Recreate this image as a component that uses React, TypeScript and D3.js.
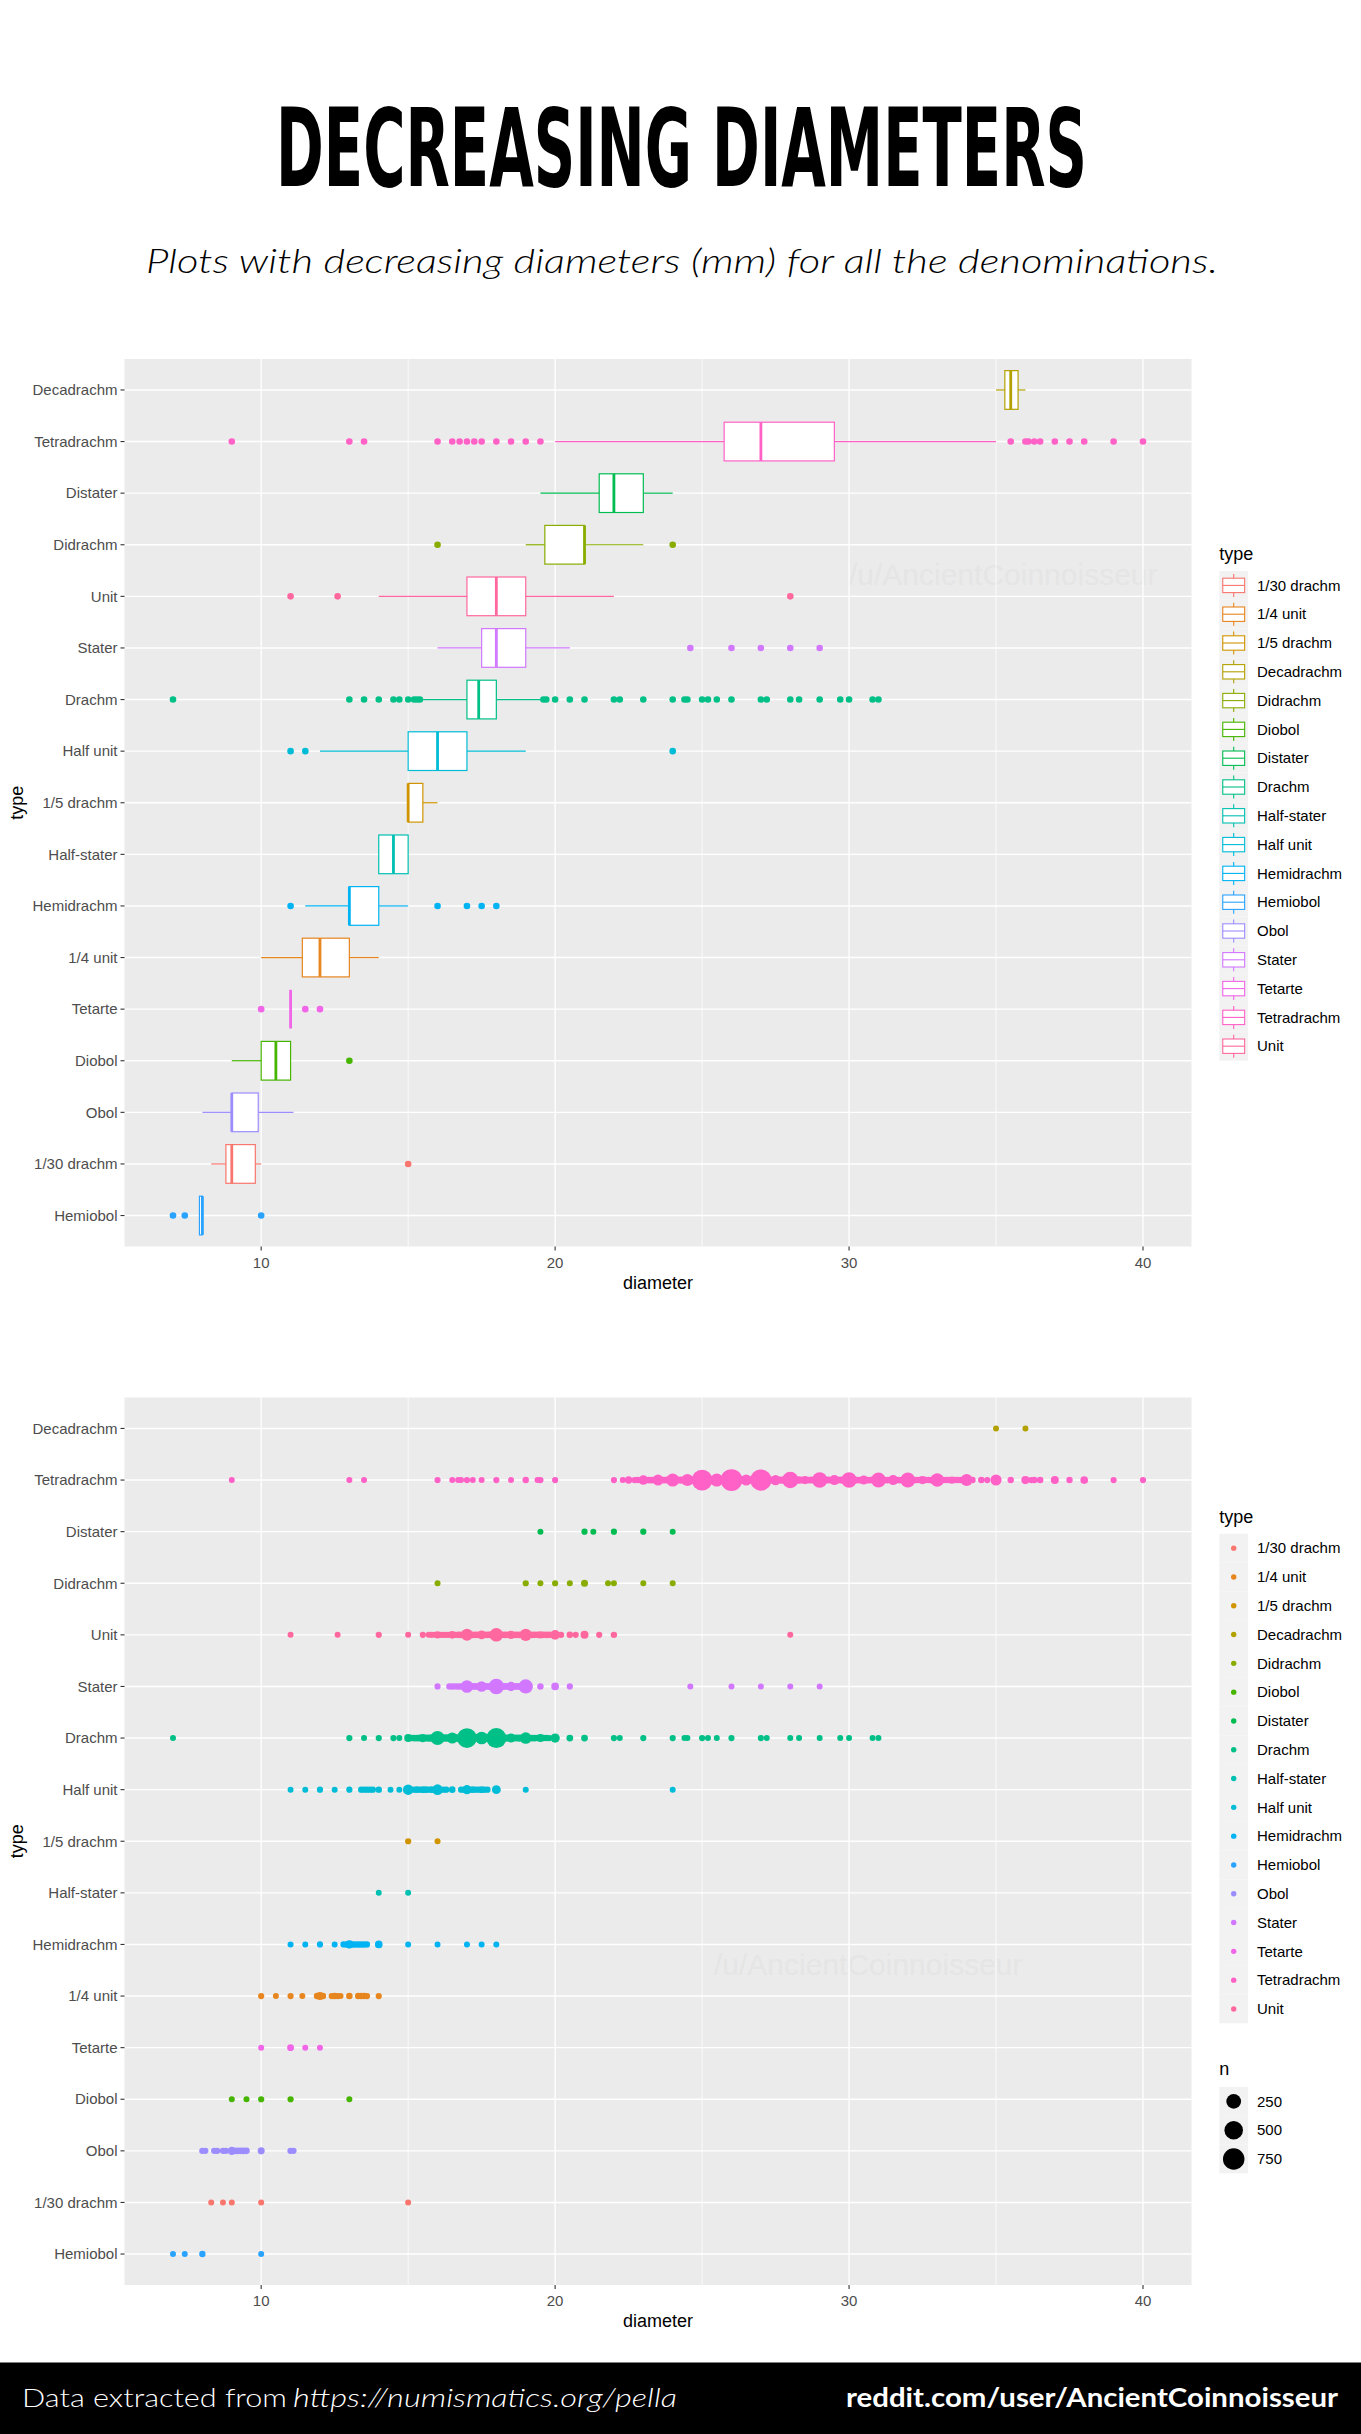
import React from 'react';
import * as d3 from 'd3';

// denominations, top to bottom as they appear on the y axis
const types = [
  'Decadrachm', 'Tetradrachm', 'Distater', 'Didrachm', 'Unit', 'Stater', 'Drachm',
  'Half unit', '1/5 drachm', 'Half-stater', 'Hemidrachm', '1/4 unit', 'Tetarte',
  'Diobol', 'Obol', '1/30 drachm', 'Hemiobol',
];

// legend order (factor levels)
const levels = [
  '1/30 drachm', '1/4 unit', '1/5 drachm', 'Decadrachm', 'Didrachm', 'Diobol', 'Distater',
  'Drachm', 'Half-stater', 'Half unit', 'Hemidrachm', 'Hemiobol', 'Obol', 'Stater',
  'Tetarte', 'Tetradrachm', 'Unit',
];

// [lower whisker, q1, median, q3, upper whisker], same order as types
const boxStats: number[][] = [
  [35, 35.3, 35.5, 35.75, 36],
  [20, 25.75, 27, 29.5, 35],
  [19.5, 21.5, 22, 23, 24],
  [19, 19.65, 21, 21, 23],
  [14, 17, 18, 19, 22],
  [16, 17.5, 18, 19, 20.5],
  [15.5, 17, 17.4, 18, 19.5],
  [12, 15, 16, 17, 19],
  [15, 15, 15, 15.5, 16],
  [14, 14, 14.5, 15, 15],
  [11.5, 13, 13, 14, 15],
  [10, 11.4, 12, 13, 14],
  [11, 11, 11, 11, 11],
  [9, 10, 10.5, 11, 11],
  [8, 9, 9, 9.9, 11.1],
  [8.3, 8.8, 9, 9.8, 10],
  [7.9, 7.9, 8, 8, 8],
];

const boxOutliers: number[][] = [
  [],
  [9, 13, 13.5, 16, 16.5, 16.75, 17, 17.25, 17.5, 18, 18.5, 19, 19.5, 35.5, 36, 36.1, 36.3, 36.5, 37, 37.5, 38, 39, 40],
  [],
  [16, 24],
  [11, 12.6, 28],
  [24.6, 26, 27, 28, 29],
  [7, 13, 13.5, 14, 14.5, 14.7, 15, 15.2, 15.3, 15.4, 19.6, 19.7, 20, 20.5, 21, 22, 22.2, 23, 24, 24.4, 24.5,
    25, 25.2, 25.5, 26, 27, 27.2, 28, 28.3, 29, 29.7, 30, 30.8, 31],
  [11, 11.5, 24],
  [],
  [],
  [11, 16, 17, 17.5, 18],
  [],
  [10, 11.5, 12],
  [13],
  [],
  [15],
  [7, 7.4, 10],
];

// [diameter, number of coins]
const decadrachmCounts = [[35, 1], [36, 1]];
const tetradrachmCounts = [
  [9, 1], [13, 1], [13.5, 1], [16, 2], [16.5, 1], [16.7, 1], [16.8, 1], [17, 2], [17.2, 1], [17.5, 1],
  [18, 2], [18.5, 1], [19, 3], [19.4, 1], [19.5, 2], [20, 2],
  [22, 2], [22.3, 1], [22.5, 12], [22.7, 2], [22.8, 3], [22.9, 2], [23, 50], [23.1, 4], [23.2, 6],
  [23.3, 5], [23.4, 4], [23.5, 90], [23.6, 6], [23.7, 5], [23.8, 8], [23.9, 5],
  [24, 170], [24.1, 6], [24.2, 8], [24.3, 10], [24.4, 6], [24.5, 130], [24.6, 8], [24.7, 10], [24.8, 14], [24.9, 8],
  [25, 690], [25.1, 12], [25.2, 14], [25.3, 16], [25.4, 10], [25.5, 170], [25.6, 12], [25.7, 14], [25.8, 16], [25.9, 12],
  [26, 780], [26.1, 10], [26.2, 16], [26.3, 12], [26.4, 10], [26.5, 95], [26.6, 10], [26.7, 12], [26.8, 14], [26.9, 8],
  [27, 730], [27.1, 10], [27.2, 14], [27.3, 10], [27.4, 8], [27.5, 70], [27.6, 8], [27.7, 10], [27.8, 12], [27.9, 6],
  [28, 350], [28.1, 8], [28.2, 10], [28.3, 12], [28.4, 6], [28.5, 22], [28.6, 6], [28.7, 8], [28.8, 6], [28.9, 6],
  [29, 290], [29.1, 6], [29.2, 8], [29.3, 8], [29.4, 5], [29.5, 64], [29.6, 6], [29.7, 8], [29.8, 10], [29.9, 5],
  [30, 290], [30.1, 5], [30.2, 8], [30.3, 6], [30.4, 5], [30.5, 40], [30.6, 5], [30.7, 6], [30.8, 8], [30.9, 4],
  [31, 260], [31.1, 4], [31.2, 6], [31.3, 5], [31.4, 4], [31.5, 64], [31.6, 4], [31.7, 5], [31.8, 6], [31.9, 4],
  [32, 260], [32.1, 4], [32.2, 5], [32.3, 4], [32.4, 4], [32.5, 22], [32.6, 3], [32.7, 4], [32.8, 5], [32.9, 3],
  [33, 190], [33.1, 3], [33.2, 4], [33.3, 3], [33.4, 3], [33.5, 10], [33.6, 3], [33.7, 3], [33.8, 4],
  [34, 128], [34.2, 3], [34.5, 4], [34.7, 2], [35, 95], [35.5, 3], [36, 22], [36.2, 2], [36.3, 3], [36.5, 4],
  [37, 20], [37.5, 3], [38, 15], [39, 2], [40, 2],
];
const distaterCounts = [[19.5, 1], [21, 2], [21.3, 1], [22, 2], [23, 2], [24, 1]];
const didrachmCounts = [
  [16, 1], [19, 2], [19.5, 1], [20, 2], [20.5, 1], [21, 8], [21.8, 1], [22, 1], [23, 1], [24, 1],
];
const unitCounts = [
  [11, 1], [12.6, 1], [14, 2], [15, 1], [15.5, 2], [15.7, 1], [15.8, 2], [15.9, 1], [16, 12], [16.1, 2],
  [16.2, 3], [16.3, 2], [16.4, 2], [16.5, 15], [16.6, 3], [16.7, 4], [16.8, 5], [16.9, 3], [17, 125],
  [17.1, 4], [17.2, 6], [17.3, 5], [17.4, 4], [17.5, 35], [17.6, 6], [17.7, 5], [17.8, 8], [17.9, 4],
  [18, 190], [18.1, 5], [18.2, 6], [18.3, 6], [18.4, 4], [18.5, 25], [18.6, 5], [18.7, 6], [18.8, 7],
  [18.9, 4], [19, 130], [19.1, 5], [19.2, 6], [19.3, 4], [19.4, 4], [19.5, 10], [19.6, 4], [19.7, 5],
  [19.8, 4], [19.9, 3], [20, 50], [20.2, 3], [20.5, 4], [20.7, 2], [21, 20], [21.5, 2], [22, 3], [28, 1],
];
const staterCounts = [
  [16, 2], [16.4, 2], [16.5, 3], [16.6, 2], [16.7, 3], [16.8, 4], [16.9, 3], [17, 150], [17.1, 4],
  [17.2, 5], [17.3, 6], [17.4, 5], [17.5, 75], [17.6, 5], [17.7, 6], [17.8, 8], [17.9, 5], [18, 300],
  [18.1, 6], [18.2, 8], [18.3, 6], [18.4, 5], [18.5, 45], [18.6, 5], [18.7, 6], [18.8, 8], [18.9, 5],
  [19, 230], [19.5, 3], [20, 15], [20.5, 2], [24.6, 1], [26, 1], [27, 1], [28, 1], [29, 1],
];
const drachmCounts = [
  [7, 1], [13, 2], [13.5, 1], [14, 2], [14.5, 2], [14.7, 1], [15, 18], [15.1, 4], [15.2, 5], [15.3, 6],
  [15.4, 8], [15.5, 25], [15.6, 8], [15.7, 10], [15.8, 12], [15.9, 8], [16, 215], [16.1, 10], [16.2, 14],
  [16.3, 12], [16.4, 10], [16.5, 95], [16.6, 12], [16.7, 15], [16.8, 18], [16.9, 12], [17, 600],
  [17.1, 15], [17.2, 18], [17.3, 16], [17.4, 12], [17.5, 150], [17.6, 14], [17.7, 16], [17.8, 18],
  [17.9, 12], [18, 620], [18.1, 12], [18.2, 14], [18.3, 10], [18.4, 8], [18.5, 40], [18.6, 8], [18.7, 8],
  [18.8, 10], [18.9, 6], [19, 110], [19.1, 6], [19.2, 5], [19.3, 5], [19.4, 4], [19.5, 20], [19.6, 3],
  [19.7, 3], [19.8, 2], [20, 45], [20.5, 6], [21, 6], [22, 2], [22.2, 1], [23, 2], [24, 2], [24.4, 1],
  [24.5, 1], [25, 2], [25.2, 1], [25.5, 1], [26, 2], [27, 2], [27.2, 1], [28, 1], [28.3, 1], [29, 1],
  [29.7, 1], [30, 1], [30.8, 1], [31, 1],
];
const halfUnitCounts = [
  [11, 1], [11.5, 1], [12, 2], [12.5, 1], [13, 2], [13.4, 2], [13.5, 3], [13.6, 2], [13.7, 3], [13.8, 2],
  [14, 3], [14.4, 1], [14.7, 1], [15, 75], [15.2, 3], [15.3, 4], [15.4, 3], [15.5, 6], [15.6, 4], [15.7, 3],
  [15.8, 4], [15.9, 3], [16, 80], [16.2, 3], [16.3, 2], [16.5, 4], [16.8, 2], [16.9, 3], [17, 40],
  [17.1, 3], [17.2, 4], [17.3, 3], [17.4, 2], [17.5, 6], [17.6, 2], [17.7, 2], [18, 35], [19, 1], [24, 1],
];
const fifthDrachmCounts = [[15, 2], [16, 1]];
const halfStaterCounts = [[14, 1], [15, 1]];
const hemidrachmCounts = [
  [11, 1], [11.5, 1], [12, 2], [12.5, 1], [12.8, 2], [12.9, 2], [13, 22], [13.1, 3], [13.2, 4], [13.3, 3],
  [13.4, 3], [13.5, 4], [13.6, 2], [14, 15], [15, 1], [16, 1], [17, 1], [17.5, 1], [18, 1],
];
const quarterUnitCounts = [
  [10, 2], [10.5, 1], [11, 2], [11.4, 1], [11.9, 3], [12, 18], [12.1, 3], [12.4, 2], [12.5, 3], [12.6, 2],
  [12.7, 1], [13, 4], [13.3, 3], [13.4, 3], [13.5, 4], [13.6, 2], [14, 2],
];
const tetarteCounts = [[10, 1], [11, 6], [11.5, 1], [12, 1]];
const diobolCounts = [[9, 1], [9.5, 1], [10, 2], [11, 2], [13, 1]];
const obolCounts = [
  [8, 3], [8.1, 2], [8.4, 2], [8.5, 3], [8.7, 2], [8.8, 3], [9, 25], [9.1, 6], [9.2, 5], [9.3, 4],
  [9.4, 5], [9.5, 4], [10, 8], [11, 3], [11.1, 2],
];
const thirtiethDrachmCounts = [[8.3, 1], [8.7, 1], [9, 1], [10, 1], [15, 1]];
const hemiobolCounts = [[7, 1], [7.4, 1], [8, 3], [10, 1]];

// same order as types
const countsByType = [
  decadrachmCounts, tetradrachmCounts, distaterCounts, didrachmCounts, unitCounts, staterCounts,
  drachmCounts, halfUnitCounts, fifthDrachmCounts, halfStaterCounts, hemidrachmCounts,
  quarterUnitCounts, tetarteCounts, diobolCounts, obolCounts, thirtiethDrachmCounts, hemiobolCounts,
];

const xMajor = [10, 20, 30, 40];
const xMinor = [15, 25, 35];
const sizeBreaks = [250, 500, 750];

const FONT = "'Liberation Sans', Arial, Helvetica, sans-serif";
const BG = '#EBEBEB';

// R's hcl() (polar CIE-LUV) to hex, used for the default hue palette
function hclHex(h: number, c: number, l: number) {
  const rad = (h * Math.PI) / 180;
  const U = c * Math.cos(rad);
  const V = c * Math.sin(rad);
  const Y = 100 * (l > 7.999592 ? Math.pow((l + 16) / 116, 3) : l / 903.3);
  const u = U / (13 * l) + 0.1978398;
  const v = V / (13 * l) + 0.4683363;
  const X = (9 * Y * u) / (4 * v);
  const Z = -X / 3 - 5 * Y + (3 * Y) / v;
  const lin = [
    3.240479 * X - 1.53715 * Y - 0.498535 * Z,
    -0.969256 * X + 1.875992 * Y + 0.041556 * Z,
    0.055648 * X - 0.204043 * Y + 1.057311 * Z,
  ];
  const ch = lin.map((t) => {
    t /= 100;
    const g = t > 0.0031308 ? 1.055 * Math.pow(t, 1 / 2.4) - 0.055 : 12.92 * t;
    return Math.round(Math.max(0, Math.min(1, g)) * 255);
  });
  return d3.rgb(ch[0], ch[1], ch[2]).formatHex();
}

const color = d3
  .scaleOrdinal<string, string>()
  .domain(levels)
  .range(levels.map((_, i) => hclHex(15 + (i * 360) / levels.length, 100, 65)));

const x = d3.scaleLinear().domain([5.35, 41.65]).range([124.5, 1191.5]);
const size = d3.scaleSqrt().domain([0, 1000]).range([2.7, 12]);

const TOP = { top: 359, bottom: 1246.5 };
const BOTTOM = { top: 1397.5, bottom: 2285 };

function yScale(p: { top: number; bottom: number }) {
  const step = (p.bottom - p.top) / (types.length - 1 + 1.2);
  return d3
    .scalePoint<string>()
    .domain(types)
    .range([p.top + 0.6 * step, p.bottom - 0.6 * step]);
}

const Frame: React.FC<{
  p: { top: number; bottom: number };
  y: d3.ScalePoint<string>;
  mark: [number, number];
  children?: React.ReactNode;
}> = ({ p, y, mark, children }) => {
  const [x0, x1] = x.range();
  const mid = (p.top + p.bottom) / 2;
  return (
    <g>
      <rect x={x0} y={p.top} width={x1 - x0} height={p.bottom - p.top} fill={BG} />
      <text x={mark[0]} y={mark[1]} fontFamily={FONT} fontSize={30} fill="#e5e5e5">
        /u/AncientCoinnoisseur
      </text>
      {xMinor.map((v) => (
        <line key={'mi' + v} x1={x(v)} x2={x(v)} y1={p.top} y2={p.bottom} stroke="#fff" strokeWidth={0.8} />
      ))}
      {xMajor.map((v) => (
        <line key={'ma' + v} x1={x(v)} x2={x(v)} y1={p.top} y2={p.bottom} stroke="#fff" strokeWidth={1.3} />
      ))}
      {types.map((t) => (
        <line key={'h' + t} x1={x0} x2={x1} y1={y(t)} y2={y(t)} stroke="#fff" strokeWidth={1.4} />
      ))}
      {children}
      {/* y axis */}
      {types.map((t) => (
        <g key={'yl' + t}>
          <line x1={x0 - 4} x2={x0} y1={y(t)} y2={y(t)} stroke="#333" strokeWidth={1.1} />
          <text x={x0 - 7} y={y(t)} dy="0.35em" textAnchor="end" fontFamily={FONT} fontSize={15} fill="#4D4D4D">
            {t}
          </text>
        </g>
      ))}
      {/* x axis */}
      {xMajor.map((v) => (
        <g key={'xl' + v}>
          <line x1={x(v)} x2={x(v)} y1={p.bottom} y2={p.bottom + 4} stroke="#333" strokeWidth={1.1} />
          <text x={x(v)} y={p.bottom + 21} textAnchor="middle" fontFamily={FONT} fontSize={15} fill="#4D4D4D">
            {v}
          </text>
        </g>
      ))}
      <text x={(x0 + x1) / 2} y={p.bottom + 42} textAnchor="middle" fontFamily={FONT} fontSize={18} fill="#000">
        diameter
      </text>
      <text
        transform={`translate(23,${mid}) rotate(-90)`}
        textAnchor="middle"
        fontFamily={FONT}
        fontSize={18}
        fill="#000"
      >
        type
      </text>
    </g>
  );
};

const KEY = 28.8;
const KEY_X = 1219.3;

const App: React.FC = () => {
  const yTop = yScale(TOP);
  const yBot = yScale(BOTTOM);
  const boxH = yTop.step() * 0.75;

  return (
    <div style={{ position: 'absolute', left: 0, top: 0 }}>
      <svg width={1361} height={2434} style={{ display: 'block', background: '#fff' }}>
        {/* condensed headline: narrow bold face stretched vertically */}
        <text
          transform="translate(276,186) scale(1,1.8)"
          x={0}
          y={0}
          textLength={811}
          lengthAdjust="spacingAndGlyphs"
          fontFamily="'Liberation Sans Narrow', 'DejaVu Sans Condensed', 'Liberation Sans', sans-serif"
          fontWeight="bold"
          fontSize={60}
          fill="#000"
        >
          DECREASING DIAMETERS
        </text>
        <text
          x={146}
          y={273}
          textLength={1072}
          lengthAdjust="spacingAndGlyphs"
          fontFamily="Lato, 'Open Sans', sans-serif"
          fontWeight={300}
          fontStyle="italic"
          fontSize={34}
          fill="#000"
        >
          Plots with decreasing diameters (mm) for all the denominations.
        </text>

        {/* box plots */}
        <Frame p={TOP} y={yTop} mark={[849, 585]}>
          {types.map((t, i) => {
            const [lo, q1, med, q3, hi] = boxStats[i];
            const cy = yTop(t) as number;
            const c = color(t);
            return (
              <g key={'box' + t}>
                <line x1={x(lo)} x2={x(q1)} y1={cy} y2={cy} stroke={c} strokeWidth={1.2} />
                <line x1={x(q3)} x2={x(hi)} y1={cy} y2={cy} stroke={c} strokeWidth={1.2} />
                <rect
                  x={x(q1)}
                  y={cy - boxH / 2}
                  width={x(q3) - x(q1)}
                  height={boxH}
                  fill="#fff"
                  stroke={c}
                  strokeWidth={1.2}
                />
                <line x1={x(med)} x2={x(med)} y1={cy - boxH / 2} y2={cy + boxH / 2} stroke={c} strokeWidth={2.8} />
                {boxOutliers[i].map((v, j) => (
                  <circle key={j} cx={x(v)} cy={cy} r={3.3} fill={c} />
                ))}
              </g>
            );
          })}
        </Frame>

        {/* counts per diameter */}
        <Frame p={BOTTOM} y={yBot} mark={[714, 1975]}>
          {types.map((t, i) =>
            countsByType[i].map(([d, n], j) => (
              <circle key={t + j} cx={x(d)} cy={yBot(t)} r={size(n)} fill={color(t)} />
            ))
          )}
        </Frame>

        {/* legend: box plot keys */}
        <text x={KEY_X} y={560} fontFamily={FONT} fontSize={18} fill="#000">type</text>
        {levels.map((t, i) => {
          const top = 571 + i * KEY;
          const cx = KEY_X + KEY / 2;
          const c = color(t);
          return (
            <g key={'lk' + t}>
              <rect x={KEY_X} y={top} width={KEY} height={KEY} fill="#F2F2F2" />
              <line x1={cx} x2={cx} y1={top + KEY * 0.1} y2={top + KEY * 0.9} stroke={c} strokeWidth={1.1} />
              <rect x={KEY_X + KEY * 0.12} y={top + KEY * 0.25} width={KEY * 0.76} height={KEY * 0.5} fill="#fff" stroke={c} strokeWidth={1.1} />
              <line x1={KEY_X + KEY * 0.12} x2={KEY_X + KEY * 0.88} y1={top + KEY / 2} y2={top + KEY / 2} stroke={c} strokeWidth={1.1} />
              <text x={1257} y={top + KEY / 2} dy="0.35em" fontFamily={FONT} fontSize={15} fill="#000">{t}</text>
            </g>
          );
        })}

        {/* legend: point keys */}
        <text x={KEY_X} y={1523} fontFamily={FONT} fontSize={18} fill="#000">type</text>
        {levels.map((t, i) => {
          const top = 1533.75 + i * KEY;
          return (
            <g key={'pk' + t}>
              <rect x={KEY_X} y={top} width={KEY} height={KEY} fill="#F2F2F2" />
              <circle cx={KEY_X + KEY / 2} cy={top + KEY / 2} r={2.7} fill={color(t)} />
              <text x={1257} y={top + KEY / 2} dy="0.35em" fontFamily={FONT} fontSize={15} fill="#000">{t}</text>
            </g>
          );
        })}
        <text x={KEY_X} y={2075} fontFamily={FONT} fontSize={18} fill="#000">n</text>
        {sizeBreaks.map((n, i) => {
          const top = 2087 + i * KEY;
          return (
            <g key={'sk' + n}>
              <rect x={KEY_X} y={top} width={KEY} height={KEY} fill="#F2F2F2" />
              <circle cx={KEY_X + KEY / 2} cy={top + KEY / 2} r={size(n)} fill="#000" />
              <text x={1257} y={top + KEY / 2} dy="0.35em" fontFamily={FONT} fontSize={15} fill="#000">{n}</text>
            </g>
          );
        })}

        {/* footer */}
        <rect x={0} y={2362.5} width={1361} height={72} fill="#000" />
        <text x={22} y={2407} textLength={265} lengthAdjust="spacingAndGlyphs" fontFamily="Lato, 'Open Sans', sans-serif" fontWeight={300} fontSize={26} fill="#fff">
          Data extracted from
        </text>
        <text x={293} y={2407} textLength={384} lengthAdjust="spacingAndGlyphs" fontFamily="Lato, 'Open Sans', sans-serif" fontWeight={300} fontStyle="italic" fontSize={26} fill="#fff">
          https://numismatics.org/pella
        </text>
        <text x={846} y={2407} textLength={492} lengthAdjust="spacingAndGlyphs" fontFamily="Lato, 'Open Sans', sans-serif" fontWeight="bold" fontSize={26} fill="#fff">
          reddit.com/user/AncientCoinnoisseur
        </text>
      </svg>
    </div>
  );
};

export default App;
